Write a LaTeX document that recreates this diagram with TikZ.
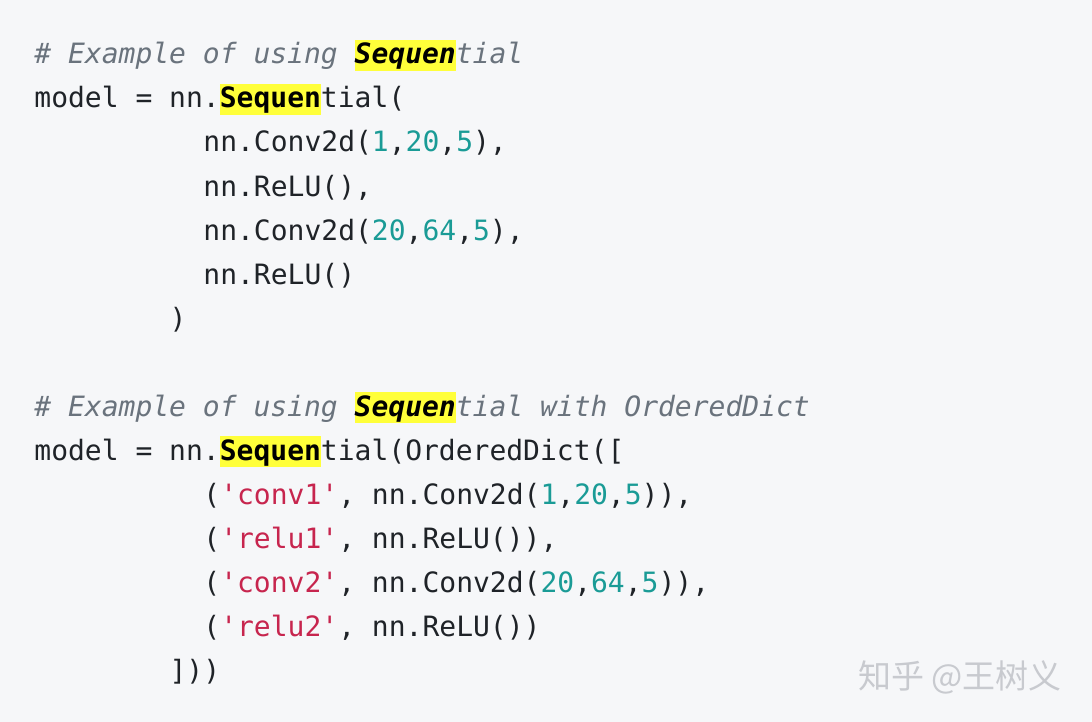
\documentclass[tikz,border=0pt]{standalone}
\usepackage{fontspec}
\newfontfamily\cf{DejaVu Sans Mono}
\newfontfamily\cjkf{Noto Sans CJK SC}
\definecolor{bg}{HTML}{F6F7F9}
\definecolor{txt}{HTML}{1F2328}
\definecolor{cmt}{HTML}{6A737D}
\definecolor{num}{HTML}{1A9B96}
\definecolor{str}{HTML}{C7254E}
\definecolor{hl}{HTML}{FFFF3A}
\definecolor{wm}{HTML}{C8CACF}
\newcommand{\hlS}{{\setlength\fboxsep{0pt}\colorbox{hl}{\rule[-3.5pt]{0pt}{15.5pt}\bfseries\color{black}Sequen}}}
\newcommand{\nm}[1]{\textcolor{num}{#1}}
\newcommand{\st}[1]{\textcolor{str}{#1}}
\begin{document}
\begin{tikzpicture}[x=1pt,y=1pt,
  code/.style={anchor=base west,inner sep=0pt,font=\cf\fontsize{14}{16}\selectfont,text=txt}]
\fill[bg] (0,0) rectangle (546,-361);
\useasboundingbox (0,0) rectangle (546,-361);
\node[code,text=cmt,font=\cf\itshape\fontsize{14}{16}\selectfont] (l1) at (17,-32) {\#~Example of using \hlS tial};
\node[code] (l2) at (17,-54) {model = nn.\hlS tial(};
\node[code] (l3) at (101.5,-76) {nn.Conv2d(\nm{1},\nm{20},\nm{5}),};
\node[code] (l4) at (101.5,-98) {nn.ReLU(),};
\node[code] (l5) at (101.5,-120) {nn.Conv2d(\nm{20},\nm{64},\nm{5}),};
\node[code] (l6) at (101.5,-142) {nn.ReLU()};
\node[code] (l7) at (84.6,-164) {)};
\node[code,text=cmt,font=\cf\itshape\fontsize{14}{16}\selectfont] (l8) at (17,-208) {\#~Example of using \hlS tial with OrderedDict};
\node[code] (l9) at (17,-230) {model = nn.\hlS tial(OrderedDict([};
\node[code] (l10) at (101.5,-252) {(\st{'conv1'}, nn.Conv2d(\nm{1},\nm{20},\nm{5})),};
\node[code] (l11) at (101.5,-274) {(\st{'relu1'}, nn.ReLU()),};
\node[code] (l12) at (101.5,-296) {(\st{'conv2'}, nn.Conv2d(\nm{20},\nm{64},\nm{5})),};
\node[code] (l13) at (101.5,-318) {(\st{'relu2'}, nn.ReLU())};
\node[code] (l14) at (84.6,-340) {]))};
\node[anchor=east,inner sep=0pt,text=wm,font=\cjkf\fontsize{16.5}{18}\selectfont] (wm) at (531,-338.5) {知乎 @王树义};
\end{tikzpicture}
\end{document}
